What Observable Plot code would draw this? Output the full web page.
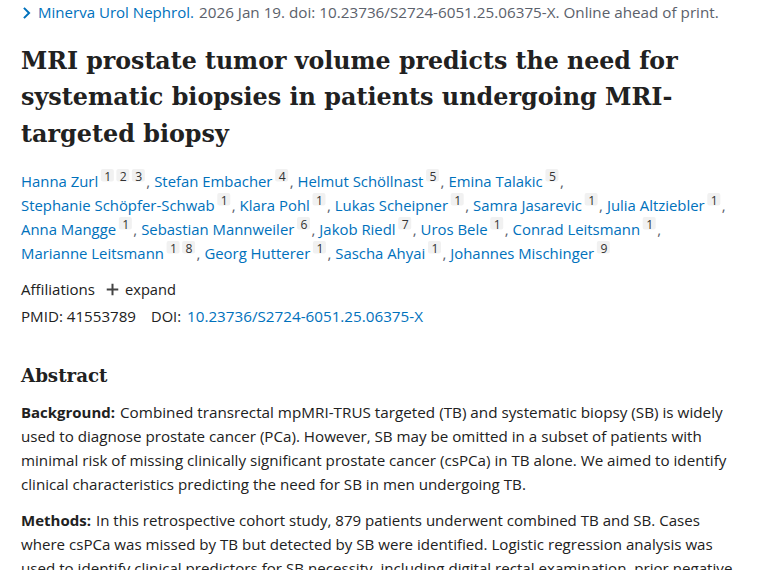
<!DOCTYPE html>
<html><head><meta charset="utf-8">
<script src="https://cdn.jsdelivr.net/npm/d3@7"></script>
<script src="https://cdn.jsdelivr.net/npm/@observablehq/plot@0.6"></script>
<style>html,body{margin:0;padding:0;background:#fff;overflow:hidden}svg{display:block}</style>
</head><body><div id="chart"></div>
<script>
// Page text
const citationLink = "Minerva Urol Nephrol.";
const citationRest = "2026 Jan 19. doi: 10.23736/S2724-6051.25.06375-X. Online ahead of print.";
const titleLines = ["MRI prostate tumor volume predicts the need for","systematic biopsies in patients undergoing MRI-","targeted biopsy"];
const authorRow1 = [["Hanna Zurl",["1","2","3"]],["Stefan Embacher",["4"]],["Helmut Schöllnast",["5"]],["Emina Talakic",["5"]]];
const authorRow2 = [["Stephanie Schöpfer-Schwab",["1"]],["Klara Pohl",["1"]],["Lukas Scheipner",["1"]],["Samra Jasarevic",["1"]],["Julia Altziebler",["1"]]];
const authorRow3 = [["Anna Mangge",["1"]],["Sebastian Mannweiler",["6"]],["Jakob Riedl",["7"]],["Uros Bele",["1"]],["Conrad Leitsmann",["1"]]];
const authorRow4 = [["Marianne Leitsmann",["1","8"]],["Georg Hutterer",["1"]],["Sascha Ahyai",["1"]],["Johannes Mischinger",["9"]]];
const affiliationLabels = ["Affiliations","expand"];
const pmidLine = ["PMID: 41553789","DOI:","10.23736/S2724-6051.25.06375-X"];
const abstractHeading = "Abstract";
const backgroundLabel = "Background:";
const backgroundLines = ["Combined transrectal mpMRI-TRUS targeted (TB) and systematic biopsy (SB) is widely","used to diagnose prostate cancer (PCa). However, SB may be omitted in a subset of patients with","minimal risk of missing clinically significant prostate cancer (csPCa) in TB alone. We aimed to identify","clinical characteristics predicting the need for SB in men undergoing TB."];
const methodsLabel = "Methods:";
const methodsLines = ["In this retrospective cohort study, 879 patients underwent combined TB and SB. Cases","where csPCa was missed by TB but detected by SB were identified. Logistic regression analysis was","used to identify clinical predictors for SB necessity, including digital rectal examination, prior negative"];

const W = 760, H = 570, LEFT = 21;
const SANS = "'Open Sans','Noto Sans',sans-serif", SERIF = "'DejaVu Serif',serif";
const BLUE = "#0071bc", INK = "#212121", MUTED = "#5b616b";
const BODY = 15.1;

const ctx = document.createElement("canvas").getContext("2d");
const measure = (s, size, weight, family) => { ctx.font = `${weight} ${size}px ${family}`; return ctx.measureText(s).width; };

const runs = [], badges = [];
function put(text, x, y, o = {}) {
  let size = o.size ?? BODY;
  const weight = o.weight ?? 400, family = o.family ?? SANS;
  if (o.right) size *= (o.right - x) / measure(text, size, weight, family);
  runs.push({text, x, y, size, weight, family, fill: o.fill ?? INK});
  return x + measure(text, size, weight, family);
}
const space = measure(" ", BODY, 400, SANS);

// citation
put(citationLink, 38, 18, {fill: BLUE, right: 194});
put(citationRest, 199, 18, {fill: MUTED, right: 719});

// title
[[69,678],[105,673],[142,229]].forEach(([y,right],i) => put(titleLines[i], LEFT, y, {size: 26, weight: 700, family: SERIF, right}));

// authors
[authorRow1,authorRow2,authorRow3,authorRow4].forEach((row, r) => {
  const y = 187 + r * 24; let x = LEFT;
  row.forEach(([name, sups], i) => {
    x = put(name, x, y, {fill: BLUE, size: 14.9}) + 3.2;
    sups.forEach(s => {
      const w = 13, sz = 12.2;
      badges.push({x1: x, x2: x + w, y1: y - 17, y2: y - 4.5});
      put(s, x + (w - measure(s, sz, 400, SANS)) / 2, y - 6, {size: sz, fill: "#333"});
      x += w + 2.5;
    });
    x -= 1.5;
    const trailing = r < 3 || i < row.length - 1;
    if (trailing) { x = put(",", x, y, {fill: MUTED}) + space; }
  });
});

// affiliations
put(affiliationLabels[0], LEFT, 295, {right: 95});
put(affiliationLabels[1], 125, 295, {right: 176});
const plusPoint = [{x: 112.5, y: 290}];

// ids
put(pmidLine[0], LEFT, 322, {right: 136});
put(pmidLine[1], 151, 322, {right: 181});
put(pmidLine[2], 187, 322, {fill: BLUE, right: 423});

// abstract
put(abstractHeading, LEFT, 382, {size: 20, weight: 700, family: SERIF, right: 107.5});
put(backgroundLabel, LEFT, 418, {weight: 700, right: 115});
[[120,723],[LEFT,702],[LEFT,727],[LEFT,526]].forEach(([x,right],i) => put(backgroundLines[i], x, 418 + i*24, {right}));
put(methodsLabel, LEFT, 526, {weight: 700, right: 91});
[[96,700],[LEFT,713],[LEFT,733]].forEach(([x,right],i) => put(methodsLines[i], x, 526 + i*24, {right}));

const chevron = {draw(c, size){ const r = Math.sqrt(size); c.moveTo(-r*0.5,-r); c.lineTo(r*0.5,0); c.lineTo(-r*0.5,r); }};
const groups = d3.groups(runs, d => `${d.weight}|${d.family}`);

const chart = Plot.plot({
  width: W, height: H, margin: 0,
  x: {domain: [0.5, W + 0.5], range: [0, W], axis: null},
  y: {domain: [1, H + 1], range: [0, H], axis: null},
  marks: [
    Plot.rect(badges, {x1:"x1", x2:"x2", y1:"y1", y2:"y2", fill:"#f1f1f1", rx:2}),
    ...groups.map(([, rows]) => Plot.text(rows, {
      x:"x", y:"y", text:"text", fill:"fill", fontSize:"size",
      fontFamily: rows[0].family, fontWeight: rows[0].weight,
      textAnchor:"start", lineAnchor:"bottom"
    })),
    Plot.dot([{x: 26.5, y: 13.5}], {x:"x", y:"y", symbol: chevron, r: 2.9, stroke: BLUE, strokeWidth: 2, fill:"none"}),
    Plot.dot(plusPoint, {x:"x", y:"y", symbol:"plus", r: 3.8, stroke:"#444", strokeWidth: 2})
  ]
});
document.getElementById("chart").append(chart);
</script></body></html>
